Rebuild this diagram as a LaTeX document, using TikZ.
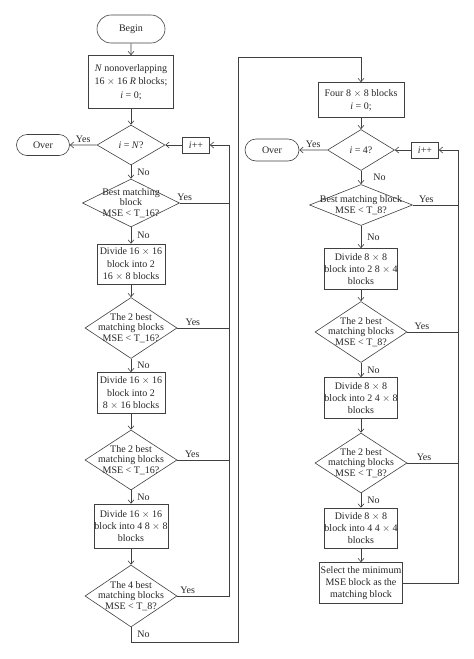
\documentclass[tikz,border=0pt]{standalone}
\usepackage{fontspec}
\setmainfont{Liberation Serif}
\usetikzlibrary{shapes.geometric, shapes.misc, arrows.meta, positioning, calc}

\tikzset{
  box/.style={draw=black!75, rectangle, align=center, inner sep=0pt, font=\fontsize{10}{12.3}\selectfont},
  term/.style={draw=black!75, rounded rectangle, inner sep=0pt, font=\fontsize{10}{12}\selectfont},
  dec/.style={draw=black!75, diamond, inner sep=0pt},
  dtxt/.style={align=center, inner sep=0pt, font=\fontsize{10}{10.8}\selectfont},
  lbl/.style={font=\fontsize{10}{11}\selectfont, inner sep=2pt},
  nolbl/.style={lbl, right, xshift=4pt}
}

\begin{document}
\begin{tikzpicture}[x=1pt, y=-1pt, line width=0.6pt, draw=black!75, text=black!85,
  >={Straight Barb[length=3.5pt, width=6pt]}]
\useasboundingbox (0,0) rectangle (474,659);

% Left column: 16 x 16 blocks
\node[term, minimum width=68, minimum height=28] (begin) at (131,29) {Begin};
\node[box, minimum width=85, minimum height=53, font=\fontsize{10}{13.5}\selectfont] (s0) at (131,82) {\textit{N} nonoverlapping\\16 $\times$ 16 \textit{R} blocks;\\\textit{i} = 0;};
\node[dec, minimum width=68, minimum height=40, label={[dtxt]center:{\textit{i} = \textit{N}?}}] (c1) at (131,145) {};
\node[term, minimum width=53, minimum height=21] (over1) at (43,145) {Over};
\node[box, minimum width=27, minimum height=16] (inc1) at (196,145) {\textit{i}++};
\node[dec, minimum width=97, minimum height=48, label={[dtxt]center:{Best matching\\block\\MSE < T\_16?}}] (d1) at (131,203) {};
\node[box, minimum width=68, minimum height=40] (b1) at (131,264) {Divide 16 $\times$ 16\\block into 2\\16 $\times$ 8 blocks};
\node[dec, minimum width=92, minimum height=61, label={[dtxt]center:{The 2 best\\matching blocks\\MSE < T\_16?}}] (d2) at (131,328) {};
\node[box, minimum width=68, minimum height=41] (b2) at (131,393) {Divide 16 $\times$ 16\\block into 2\\8 $\times$ 16 blocks};
\node[dec, minimum width=92, minimum height=60, label={[dtxt]center:{The 2 best\\matching blocks\\MSE < T\_16?}}] (d3) at (131,460) {};
\node[box, minimum width=74, minimum height=44] (b3) at (131,526) {Divide 16 $\times$ 16\\block into 4 8 $\times$ 8\\blocks};
\node[dec, minimum width=92, minimum height=62, label={[dtxt]center:{The 4 best\\matching blocks\\MSE < T\_8?}}] (d4) at (131,596) {};

% Right column: 8 x 8 blocks
\node[box, minimum width=86, minimum height=35, font=\fontsize{10}{13}\selectfont] (s1) at (361,100) {Four 8 $\times$ 8 blocks\\\textit{i} = 0;};
\node[dec, minimum width=67, minimum height=41, label={[dtxt]center:{\textit{i} = 4?}}] (c2) at (361,150) {};
\node[term, minimum width=54, minimum height=22] (over2) at (272,150) {Over};
\node[box, minimum width=27, minimum height=16] (inc2) at (425,150) {\textit{i}++};
\node[dec, minimum width=103, minimum height=41, label={[dtxt]center:{Best matching block\\MSE < T\_8?}}] (e1) at (361,205) {};
\node[box, minimum width=70, minimum height=41] (f1) at (361,269) {Divide 8 $\times$ 8\\block into 2 8 $\times$ 4\\blocks};
\node[dec, minimum width=92, minimum height=61, label={[dtxt]center:{The 2 best\\matching blocks\\MSE < T\_8?}}] (e2) at (361,332) {};
\node[box, minimum width=70, minimum height=41] (f2) at (361,398) {Divide 8 $\times$ 8\\block into 2 4 $\times$ 8\\blocks};
\node[dec, minimum width=92, minimum height=60, label={[dtxt]center:{The 2 best\\matching blocks\\MSE < T\_8?}}] (e3) at (361,463) {};
\node[box, minimum width=70, minimum height=40] (f3) at (361,528) {Divide 8 $\times$ 8\\block into 4 4 $\times$ 4\\blocks};
\node[box, minimum width=83, minimum height=41] (sel) at (361,583) {Select the minimum\\MSE block as the\\matching block};

% Corners of the loops
\coordinate (rl) at (229,0);
\coordinate (rr) at (458,0);
\coordinate (lo) at (131,642);
\coordinate (jump) at (238,57);

% Left flow
\draw[->] (begin) -- (s0);
\draw[->] (s0) -- (c1);
\draw[->] (c1) -- node[lbl, above] {Yes} (over1);
\draw[->] (c1) -- node[nolbl] {No} (d1);
\draw[->] (inc1) -- (c1);
\draw[->] (d1) -- node[nolbl] {No} (b1);
\draw[->] (b1) -- (d2);
\draw[->] (d2) -- node[nolbl] {No} (b2);
\draw[->] (b2) -- (d3);
\draw[->] (d3) -- node[nolbl] {No} (b3);
\draw[->] (b3) -- (d4);
\draw (d1.east) -- node[lbl, above, pos=0.1] {Yes} (d1.east -| rl);
\draw (d2.east) -- node[lbl, above, pos=0.3] {Yes} (d2.east -| rl);
\draw (d3.east) -- node[lbl, above, pos=0.29] {Yes} (d3.east -| rl);
\draw[->] (d4.east) -- node[lbl, above, pos=0.2] {Yes} (d4.east -| rl) -- (inc1.east -| rl) -- (inc1);
\draw[->] (d4) -- node[nolbl] {No} (lo) -- (lo -| jump) -- (jump) -- (jump -| s1) -- (s1);

% Right flow
\draw[->] (s1) -- (c2);
\draw[->] (c2) -- node[lbl, above] {Yes} (over2);
\draw[->] (c2) -- node[nolbl, xshift=6pt] {No} (e1);
\draw[->] (inc2) -- (c2);
\draw[->] (e1) -- node[nolbl] {No} (f1);
\draw[->] (f1) -- (e2);
\draw[->] (e2) -- node[nolbl] {No} (f2);
\draw[->] (f2) -- (e3);
\draw[->] (e3) -- node[nolbl] {No} (f3);
\draw[->] (f3) -- (sel);
\draw (e1.east) -- node[lbl, above, pos=0.3] {Yes} (e1.east -| rr);
\draw (e2.east) -- node[lbl, above, pos=0.29] {Yes} (e2.east -| rr);
\draw (e3.east) -- node[lbl, above, pos=0.33] {Yes} (e3.east -| rr);
\draw[->] (sel.east) -- (sel.east -| rr) -- (inc2.east -| rr) -- (inc2);
\end{tikzpicture}
\end{document}
